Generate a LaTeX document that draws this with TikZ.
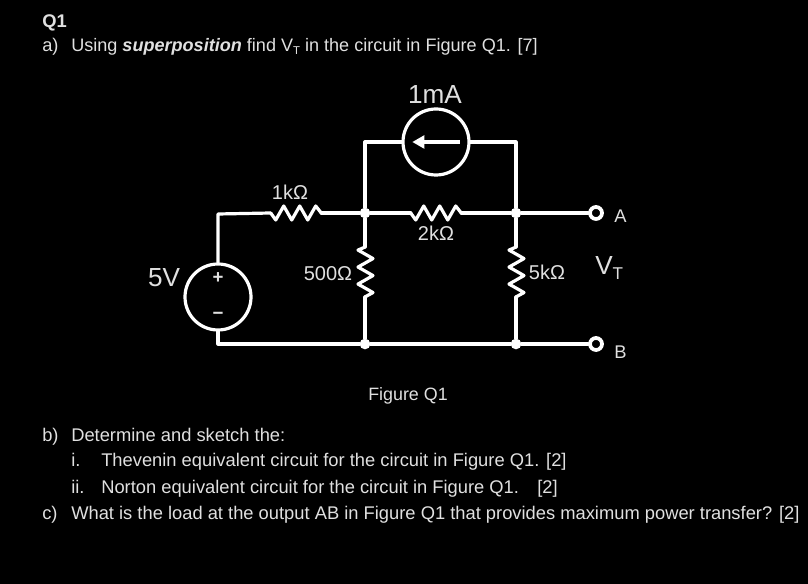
\documentclass[tikz,border=0pt]{standalone}
\usepackage{fontspec}
\setmainfont{Liberation Sans}
\usetikzlibrary{arrows.meta}
\newcommand{\fs}[1]{\fontsize{#1}{#1}\selectfont}
\newcommand{\zigh}[1]{\draw[wire] (#1.west) -- ++(5,7) -- ++(8,-14) -- ++(8,14) -- ++(8,-14) -- ++(8,14) -- ++(8,-14) -- (#1.east);}
\newcommand{\zigv}[1]{\draw[wire] (#1.north) -- ++(-7,3) -- ++(15,8.5) -- ++(-15,8.5) -- ++(15,8.5) -- ++(-15,8.5) -- ++(15,8.5) -- (#1.south);}
\tikzset{
  wire/.style={draw=white,line width=2.4pt,line join=round,line cap=round},
  junction/.style={circle,fill=white,draw=none,minimum size=8pt,inner sep=0pt},
  terminal/.style={circle,draw=white,fill=black,line width=2.8pt,minimum size=9pt,inner sep=0pt},
  source/.style={circle,draw=white,line width=2.4pt,minimum size=49.5pt,inner sep=0pt},
  corner/.style={inner sep=0pt,minimum size=0pt},
  resh/.style={inner sep=0pt,minimum width=37.5pt,minimum height=10pt},
  resv/.style={inner sep=0pt,minimum width=10pt,minimum height=37pt},
  txt/.style={text=white!88!black,anchor=base west,inner sep=0pt,font=\fs{13.75}},
  lab/.style={text=white!88!black,anchor=base,inner sep=0pt,font=\fs{15}},
  big/.style={text=white!88!black,anchor=base,inner sep=0pt,font=\fs{19.6}}
}
\begin{document}
\begin{tikzpicture}[x=0.75pt,y=-0.75pt]
\useasboundingbox[fill=black] (0,0) rectangle (808,584);
% nodes
\node[junction] (j1) at (365,213) {};
\node[junction] (j2) at (516,213) {};
\node[junction] (j3) at (365,344) {};
\node[junction] (j4) at (516,344) {};
\node[corner] (c1) at (218,214) {};
\node[corner] (c2) at (218,344) {};
\node[corner] (c3) at (365,142) {};
\node[corner] (c4) at (516,142) {};
\node[source] (vs) at (218,297) {};
\node[source] (is) at (436,142) {};
\node[terminal] (ta) at (596,213) {};
\node[terminal] (tb) at (596,344) {};
\node[resh] (r1) at (296,213) {};
\node[resh] (r2) at (436,213) {};
\node[resv] (r3) at (365,272) {};
\node[resv] (r4) at (516,272) {};
\node[corner] (as) at (460,142) {};
\node[corner] (ae) at (412,142) {};
% wires
\draw[wire] (vs.north) -- (c1.center) -- (r1.west);
\draw[wire] (r1.east) -- (j1) -- (r2.west);
\draw[wire] (r2.east) -- (j2) -- (ta);
\draw[wire] (vs.south) -- (c2.center) -- (j3) -- (j4) -- (tb);
\draw[wire] (j1) -- (c3.center) -- (is.west);
\draw[wire] (is.east) -- (c4.center) -- (j2);
\draw[wire] (j1) -- (r3.north);
\draw[wire] (r3.south) -- (j3);
\draw[wire] (j2) -- (r4.north);
\draw[wire] (r4.south) -- (j4);
\zigh{r1}\zigh{r2}\zigv{r3}\zigv{r4}
\draw[wire,line cap=butt,-{Triangle[length=9pt,width=9.5pt]}] (as) -- (ae);
% source signs
\node[lab,font=\fs{14}\bfseries,anchor=center] (plus) at (218,278) {+};
\node[lab,font=\fs{14}\bfseries,anchor=center] (minus) at (218,316) {\textminus};
% labels
\node[big] (l1ma) at (435,104) {1mA};
\node[big] (l5v) at (164,287) {5V};
\node[lab] (l1k) at (290,200) {1kΩ};
\node[lab] (l2k) at (436,241) {2kΩ};
\node[lab] (l500) at (328,281) {500Ω};
\node[lab] (l5k) at (547,280) {5kΩ};
\node[txt] (la) at (614,223) {A};
\node[txt] (lb) at (614,359) {B};
\node[big,anchor=base west] (lvt) at (595,275) {V\raisebox{-3.5pt}{\fs{12.8}T}};
\node[txt,anchor=base,font=\fs{13.4}] (fig) at (408,401) {Figure Q1};
% text
\node[txt] (q) at (42,28) {\bfseries Q1};
\node[txt] (a1) at (42,52) {a)};
\node[txt,font=\fs{13.55}] (a2) at (71,52) {Using \textbf{\textit{superposition}} find V\raisebox{-2pt}{\fs{8.5}T} in the circuit in Figure Q1. [7]};
\node[txt] (b1) at (42,442) {b)};
\node[txt] (b2) at (71,442) {Determine and sketch the:};
\node[txt] (b3) at (71,467) {i.};
\node[txt] (b4) at (101,467) {Thevenin equivalent circuit for the circuit in Figure Q1. [2]};
\node[txt] (b5) at (71,494) {ii.};
\node[txt] (b6) at (101,494) {Norton equivalent circuit for the circuit in Figure Q1.\quad[2]};
\node[txt] (c1t) at (42,520) {c)};
\node[txt] (c2t) at (71,520) {What is the load at the output AB in Figure Q1 that provides maximum power transfer? [2]};
\end{tikzpicture}
\end{document}
